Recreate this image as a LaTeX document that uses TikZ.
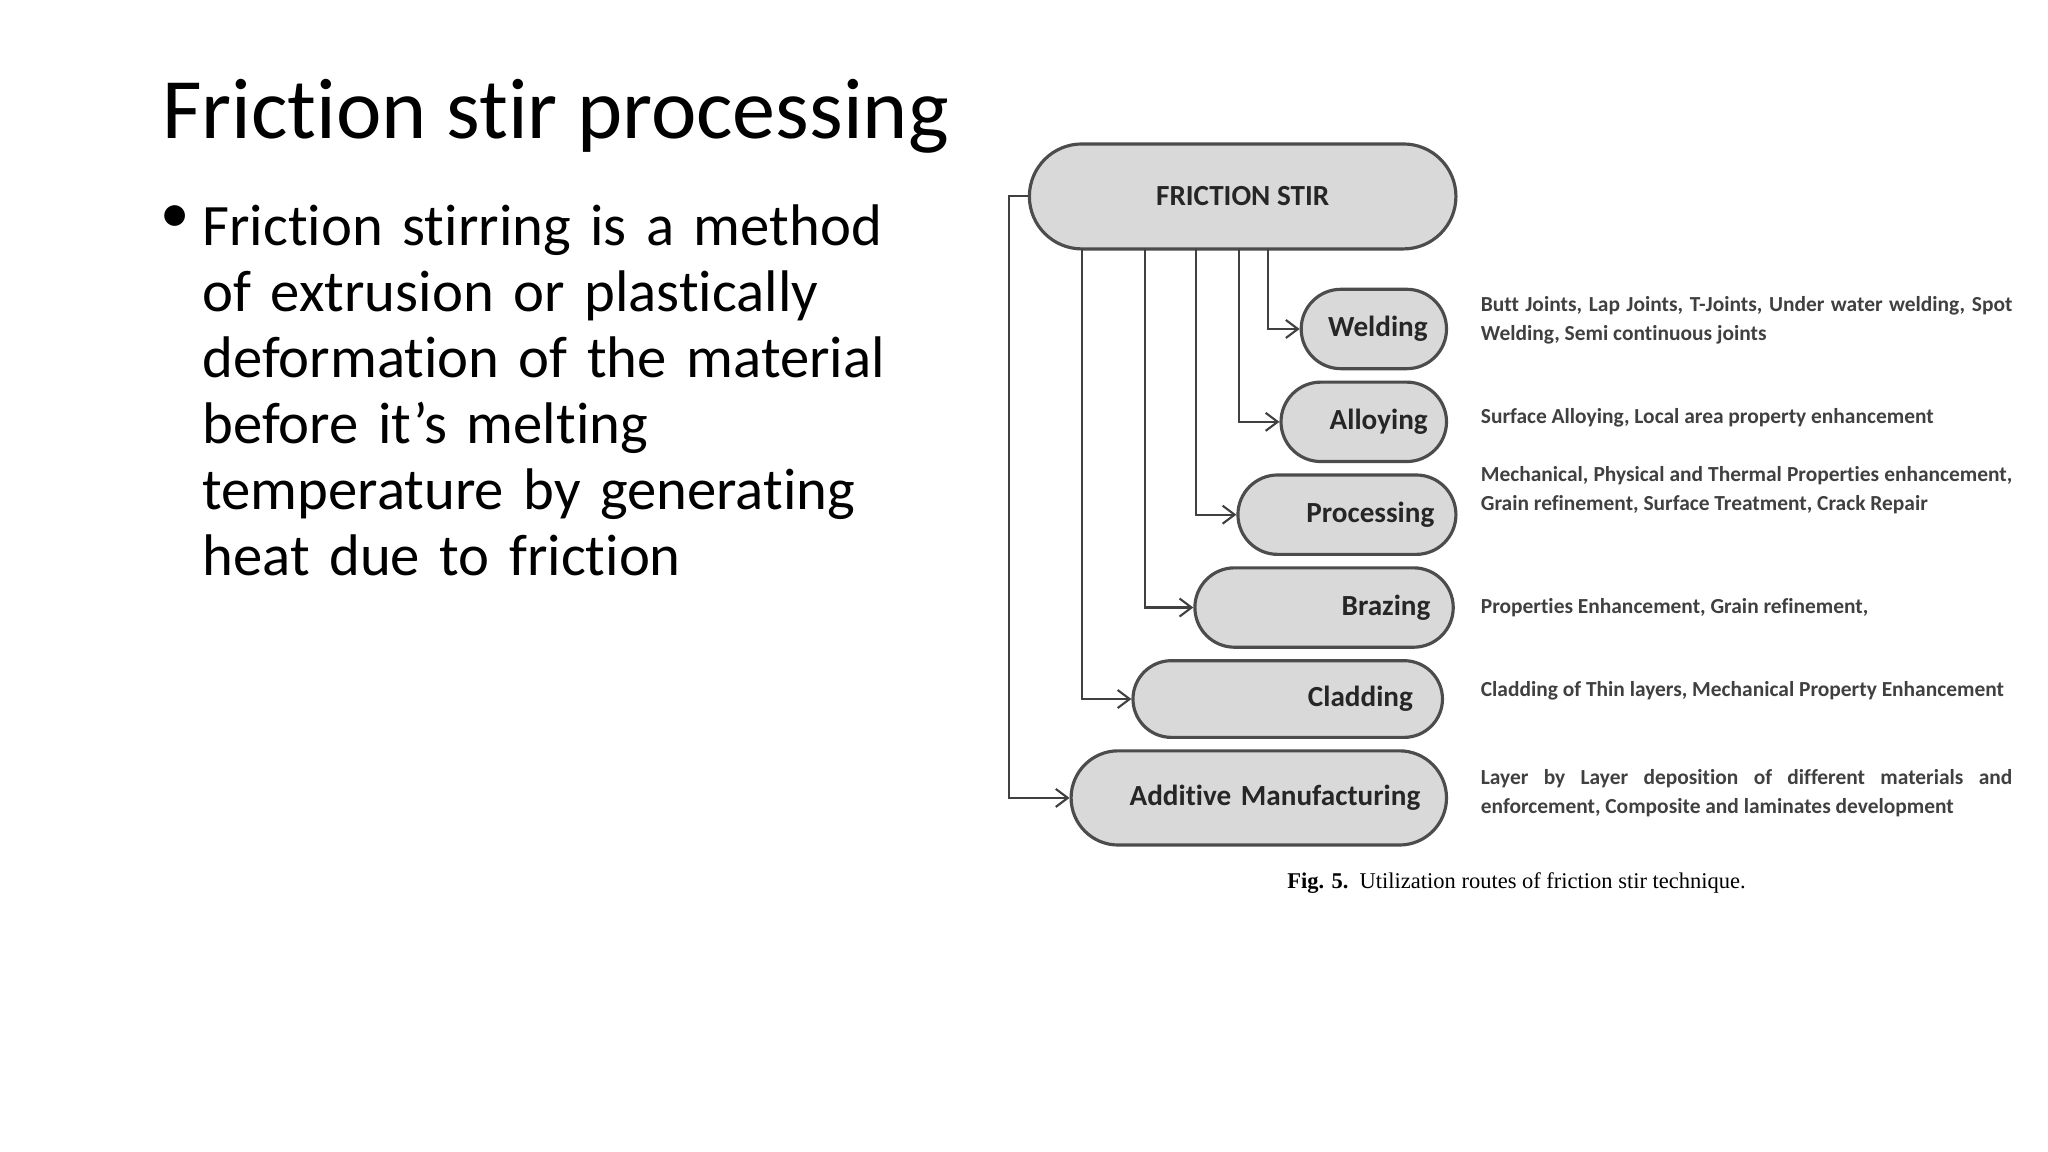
\documentclass[tikz,border=0pt]{standalone}
\usepackage{fontspec}
\setmainfont[Ligatures={NoCommon}]{Carlito}
\newfontfamily\capfont{Liberation Serif}
\usetikzlibrary{shapes.misc,arrows.meta}
\newcommand{\px}{0.013456cm}
\newcommand{\nohyph}{\hyphenpenalty=10000\relax\exhyphenpenalty=10000\relax}
\tikzset{
 pill/.style={rounded rectangle,draw=black!70,line width=0.9pt,fill=black!15,inner sep=0pt,font=\fontsize{8.3}{9}\selectfont\bfseries,text=black!85},
 arr/.style={draw=black!75,line width=0.6pt,-{Straight Barb[length=1.2mm,width=1.8mm]}},
 desc/.style={anchor=north west,text width=395*\px,align=justify,inner sep=0pt,font=\fontsize{6.1}{8.3}\selectfont\bfseries\nohyph,text=black!75},
}
\begin{document}
\begin{tikzpicture}[x=0.013456cm,y=-0.013456cm]
\useasboundingbox[fill=white] (0,0) rectangle (1522,856);
\node[anchor=base west,inner sep=0pt,font=\fontsize{24.5}{30}\selectfont] (title) at (120,103) {Friction stir processing};
\node[anchor=north west,inner sep=0pt,font=\fontsize{16.7}{18.76}\selectfont] (bul) at (119,152) {•};
\node[anchor=north west,inner sep=0pt,text width=7.6cm,align=left,font=\fontsize{16.7}{18.76}\selectfont\nohyph] (body) at (150,152) {Friction stirring is a method\\ of extrusion or plastically\\ deformation of the material\\ before it’s melting\\ temperature by generating\\ heat due to friction};

\node[pill,minimum width=317*\px,minimum height=78*\px] (fs) at (923.5,146) {FRICTION STIR};
\node[pill,minimum width=108*\px,minimum height=59*\px,text width=80*\px,align=right] (we) at (1021,244.5) {Welding};
\node[pill,minimum width=123*\px,minimum height=59*\px,text width=95*\px,align=right] (al) at (1013.5,313.5) {Alloying};
\node[pill,minimum width=162*\px,minimum height=59*\px,text width=130*\px,align=right] (pr) at (1001,382.5) {Processing};
\node[pill,minimum width=192*\px,minimum height=59*\px,text width=158*\px,align=right] (br) at (984,451.5) {Brazing};
\node[pill,minimum width=230*\px,minimum height=57*\px,text width=186*\px,align=right] (cl) at (957,519.5) {Cladding};
\node[pill,minimum width=279*\px,minimum height=70*\px,text width=240*\px,align=right] (am) at (935.5,593) {Additive Manufacturing};

\coordinate (c1) at (804,185);
\coordinate (c2) at (851,185);
\coordinate (c3) at (889,185);
\coordinate (c4) at (921,185);
\coordinate (c5) at (942,185);
\coordinate (c0) at (750,146);
\draw[arr] (fs.west) -- (c0) |- (am.west);
\draw[arr] (c1) |- (cl.west);
\draw[arr] (c2) |- (br.west);
\draw[arr] (c3) |- (pr.west);
\draw[arr] (c4) |- (al.west);
\draw[arr] (c5) |- (we.west);

\node[desc] (d1) at (1100,220) {Butt Joints, Lap Joints, T-Joints, Under water welding, Spot Welding, Semi continuous joints};
\node[desc] (d2) at (1100,303) {Surface Alloying, Local area property enhancement};
\node[desc] (d3) at (1100,346) {Mechanical, Physical and Thermal Properties enhancement, Grain refinement, Surface Treatment, Crack Repair};
\node[desc] (d4) at (1100,444) {Properties Enhancement, Grain refinement,};
\node[desc] (d5) at (1100,506) {Cladding of Thin layers, Mechanical Property Enhancement};
\node[desc] (d6) at (1100,571) {Layer by Layer deposition of different materials and enforcement, Composite and laminates development};
\node[inner sep=0pt,font=\capfont\fontsize{6.4}{7}\selectfont] (cap) at (1127,656) {\textbf{Fig. 5.}\ \ Utilization routes of friction stir technique.};
\end{tikzpicture}
\end{document}
